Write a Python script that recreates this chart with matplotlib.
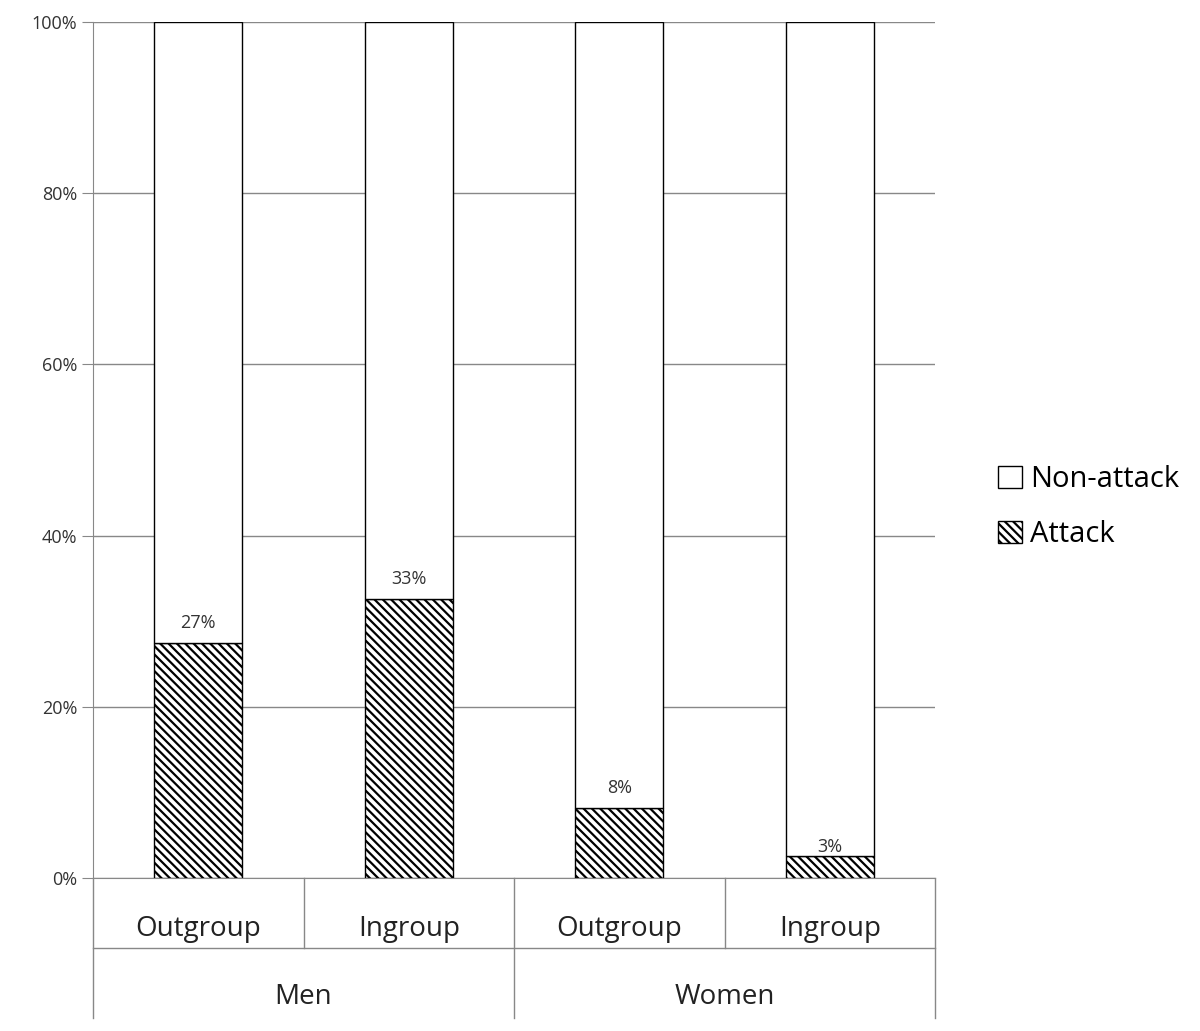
import matplotlib
matplotlib.use("Agg")
import matplotlib.pyplot as plt
from matplotlib.patches import Patch

groups = ["Outgroup", "Ingroup", "Outgroup", "Ingroup"]
genders = ["Men", "Women"]
attack = [27.4, 32.6, 8.2, 2.6]
attack_labels = ["27%", "33%", "8%", "3%"]
nonattack = [100 - a for a in attack]

plt.rcParams["font.family"] = ["Open Sans", "DejaVu Sans"]
plt.rcParams["hatch.linewidth"] = 1.6

fig = plt.figure(figsize=(12, 10.31), dpi=100)
ax = fig.add_axes([0.0775, 0.1484, 0.7017, 0.8303])

x = range(len(groups))
ax.bar(x, attack, width=0.42, color="white", edgecolor="black",
       hatch="\\\\\\\\", lw=1.0, zorder=3)
ax.bar(x, nonattack, width=0.42, bottom=attack, color="white",
       edgecolor="black", lw=1.0, zorder=3)
for i, (a, lab) in enumerate(zip(attack, attack_labels)):
    # Excel put the smallest label right on the bar top
    off = 0.0 if a < 5 else 1.3
    ax.text(i, a + off, lab, ha="center", va="bottom", fontsize=13,
            color="#333333", zorder=4)

ax.set_xlim(-0.5, 3.5)
ax.set_ylim(0, 100)
ax.set_yticks(range(0, 101, 20))
ax.set_yticklabels([f"{v}%" for v in range(0, 101, 20)], fontsize=13,
                   color="#333333")
ax.yaxis.grid(True, color="#888888", lw=1.0, zorder=0)
ax.tick_params(axis="y", length=8, color="#888888")
ax.set_xticks([])
for s in ("top", "right"):
    ax.spines[s].set_visible(False)
ax.spines["left"].set_color("#888888")
ax.spines["bottom"].set_color("#888888")

# category boxes below the axis
tr = ax.get_xaxis_transform()
kw = dict(transform=tr, clip_on=False, color="#888888", lw=1.0)
row1, row2 = -0.082, -0.163
for xv, bot in [(-0.5, row2), (0.5, row1), (1.5, row2), (2.5, row1),
                (3.5, row2)]:
    ax.plot([xv, xv], [0, bot], **kw)
ax.plot([-0.5, 3.5], [row1, row1], **kw)
for i, g in enumerate(groups):
    ax.text(i, -0.059, g, transform=tr, ha="center", va="center",
            fontsize=20, color="#222222")
for j, gd in enumerate(genders):
    ax.text(0.5 + 2 * j, -0.139, gd, transform=tr,
            ha="center", va="center", fontsize=20, color="#222222")

handles = [Patch(facecolor="white", edgecolor="black", label="Non-attack"),
           Patch(facecolor="white", edgecolor="black", hatch="\\\\\\\\",
                 label="Attack")]
fig.legend(handles=handles, loc="center left", bbox_to_anchor=(0.81, 0.508),
           frameon=False, fontsize=21, handlelength=0.8, handleheight=0.8,
           handletextpad=0.3, labelspacing=0.9)

fig.savefig("out.png", dpi=100)
